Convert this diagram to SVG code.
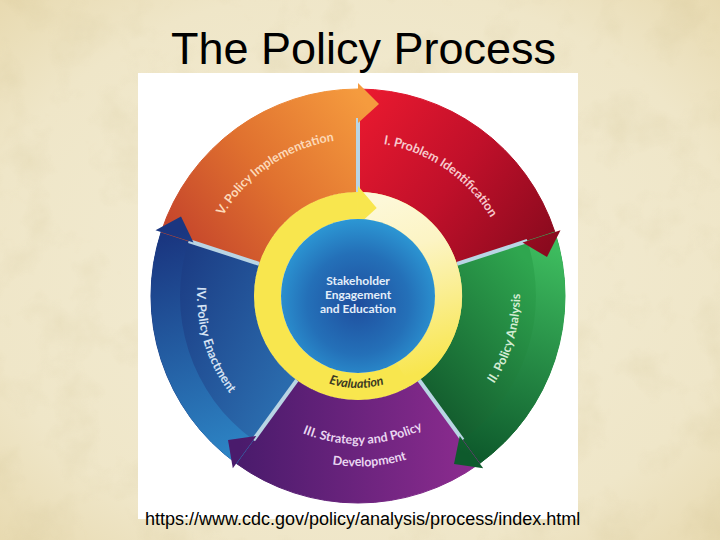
<svg xmlns="http://www.w3.org/2000/svg" width="720" height="540" viewBox="0 0 720 540">
<defs>
<style>
.title{font-family:"Liberation Sans",Arial,sans-serif;font-size:45px;fill:#000;}
.url{font-family:"Liberation Sans",Arial,sans-serif;font-size:18px;fill:#000;}
.lbl{font-family:Lato,"Open Sans",sans-serif;font-weight:700;font-size:12.5px;}
.core{font-family:Lato,"Open Sans",sans-serif;font-weight:700;font-size:12px;}
.sep{stroke:#b9d5e4;stroke-width:4;}
</style>
<radialGradient id="bg" cx="0.5" cy="0.5" r="0.75">
<stop offset="0" stop-color="#f3edd6"/>
<stop offset="0.7" stop-color="#efe6c8"/>
<stop offset="1" stop-color="#e6d7ab"/>
</radialGradient>
<filter id="paper" x="0" y="0" width="100%" height="100%">
<feTurbulence type="fractalNoise" baseFrequency="0.02" numOctaves="4" seed="7"/>
<feColorMatrix type="matrix" values="0 0 0 0 0.6  0 0 0 0 0.5  0 0 0 0 0.25  0 0 0 1.2 -0.58"/>
</filter>
<linearGradient id="gOrange" gradientUnits="userSpaceOnUse" x1="165" y1="245" x2="360" y2="95">
<stop offset="0" stop-color="#c2402b"/><stop offset="0.5" stop-color="#e0712f"/><stop offset="1" stop-color="#f59b3e"/>
</linearGradient>
<linearGradient id="gRed" gradientUnits="userSpaceOnUse" x1="365" y1="100" x2="555" y2="240">
<stop offset="0" stop-color="#e8192f"/><stop offset="0.5" stop-color="#c0102a"/><stop offset="1" stop-color="#8a0a1e"/>
</linearGradient>
<linearGradient id="gGreen" gradientUnits="userSpaceOnUse" x1="425" y1="390" x2="545" y2="280">
<stop offset="0" stop-color="#145f2f"/><stop offset="1" stop-color="#2fa64f"/>
</linearGradient>
<linearGradient id="gGreenS" gradientUnits="userSpaceOnUse" x1="470" y1="455" x2="555" y2="250">
<stop offset="0" stop-color="#0e5a2c"/><stop offset="1" stop-color="#3dbb5e"/>
</linearGradient>
<linearGradient id="gPurple" gradientUnits="userSpaceOnUse" x1="240" y1="440" x2="480" y2="440">
<stop offset="0" stop-color="#4a1b6c"/><stop offset="1" stop-color="#8e2c90"/>
</linearGradient>
<linearGradient id="gBlue" gradientUnits="userSpaceOnUse" x1="160" y1="280" x2="300" y2="360">
<stop offset="0" stop-color="#1b3a82"/><stop offset="1" stop-color="#2a6bad"/>
</linearGradient>
<linearGradient id="gBlueS" gradientUnits="userSpaceOnUse" x1="170" y1="235" x2="250" y2="450">
<stop offset="0" stop-color="#1a3680"/><stop offset="1" stop-color="#2d85c5"/>
</linearGradient>
<linearGradient id="gCream" gradientUnits="userSpaceOnUse" x1="380" y1="200" x2="430" y2="370">
<stop offset="0" stop-color="#fdf8d8"/><stop offset="0.3" stop-color="#fcf4c4"/><stop offset="1" stop-color="#f8e64e"/>
</linearGradient>
<radialGradient id="gCore" cx="0.5" cy="0.55" r="0.55">
<stop offset="0" stop-color="#1f4e9e"/><stop offset="0.6" stop-color="#2470b8"/><stop offset="1" stop-color="#2c97d4"/>
</radialGradient>
<path id="tpV" d="M 207.08 252.72 A 157 157 0 0 1 374.41 139.86"/>
<path id="tpI" d="M 343.24 142.71 A 154 154 0 0 1 506.40 254.85"/>
<path id="tpII" d="M 448.59 430.30 A 162 162 0 0 0 506.0 230.11"/>
<path id="tpIII1" d="M 266.88 412.63 A 148 148 0 0 0 457.03 405.99"/>
<path id="tpIII2" d="M 257.78 433.94 A 170.5 170.5 0 0 0 476.44 418.65"/>
<path id="tpIV" d="M 209.80 233.09 A 161 161 0 0 0 270.31 431.03"/>
<path id="tpEval" d="M 305.23 371.36 A 92 92 0 0 0 408.11 373.16"/>
</defs>

<rect width="720" height="540" fill="url(#bg)"/>
<rect width="720" height="540" filter="url(#paper)" opacity="0.35"/>

<text class="title" x="363.5" y="64" text-anchor="middle">The Policy Process</text>

<rect x="138" y="73" width="440" height="446" fill="#ffffff"/>

<g id="seg-1-problem-identification">
<path d="M 358 89 A 207 207 0 0 1 554.87 232.03 L 456.91 263.86 A 104 104 0 0 0 358 192 Z" fill="url(#gRed)" stroke="url(#gRed)" stroke-width="1"/>
<text class="lbl" fill="#f7c9cd"><textPath href="#tpI" startOffset="50%" text-anchor="middle">I. Problem Identification</textPath></text>
</g>
<g id="seg-2-policy-analysis">
<path d="M 554.87 232.03 A 207 207 0 0 1 479.67 463.47 L 419.13 380.14 A 104 104 0 0 0 456.91 263.86 Z" fill="url(#gGreen)" stroke="url(#gGreen)" stroke-width="1"/>
<path d="M 554.87 232.03 A 207 207 0 0 1 479.67 463.47 L 462.63 440.01 A 178 178 0 0 0 527.29 240.99 Z" fill="url(#gGreenS)"/>
<text class="lbl" fill="#d3ecd3"><textPath href="#tpII" startOffset="50%" text-anchor="middle">II. Policy Analysis</textPath></text>
</g>
<g id="seg-3-strategy">
<path d="M 479.67 463.47 A 207 207 0 0 1 236.33 463.47 L 296.87 380.14 A 104 104 0 0 0 419.13 380.14 Z" fill="url(#gPurple)" stroke="url(#gPurple)" stroke-width="1"/>
<text class="lbl" fill="#e9d6f0"><textPath href="#tpIII1" startOffset="50%" text-anchor="middle">III. Strategy and Policy</textPath></text>
<text class="lbl" fill="#e9d6f0"><textPath href="#tpIII2" startOffset="50%" text-anchor="middle">Development</textPath></text>
</g>
<g id="seg-4-policy-enactment">
<path d="M 236.33 463.47 A 207 207 0 0 1 161.13 232.03 L 259.09 263.86 A 104 104 0 0 0 296.87 380.14 Z" fill="url(#gBlue)" stroke="url(#gBlue)" stroke-width="1"/>
<path d="M 236.33 463.47 A 207 207 0 0 1 161.13 232.03 L 188.71 240.99 A 178 178 0 0 0 253.37 440.01 Z" fill="url(#gBlueS)"/>
<text class="lbl" fill="#d5e3f4"><textPath href="#tpIV" startOffset="50%" text-anchor="middle">IV. Policy Enactment</textPath></text>
</g>
<g id="seg-5-policy-implementation">
<path d="M 161.13 232.03 A 207 207 0 0 1 358 89 L 358 192 A 104 104 0 0 0 259.09 263.86 Z" fill="url(#gOrange)" stroke="url(#gOrange)" stroke-width="1"/>
<text class="lbl" fill="#fcd9b8"><textPath href="#tpV" startOffset="50%" text-anchor="middle">V. Policy Implementation</textPath></text>
</g>

<g id="connectors">
<line class="sep" x1="358" y1="192" x2="358" y2="118"/>
<line class="sep" x1="456.91" y1="263.86" x2="527.29" y2="240.99"/>
<line class="sep" x1="419.13" y1="380.14" x2="462.63" y2="440.01"/>
<line class="sep" x1="296.87" y1="380.14" x2="253.37" y2="440.01"/>
<line class="sep" x1="259.09" y1="263.86" x2="188.71" y2="240.99"/>
<polygon points="358,83 379,104 358,123" fill="url(#gOrange)"/>
<polygon points="560.5,230.2 547,257 522.5,242.5" fill="url(#gRed)"/>
<polygon points="483.2,468.3 454,464 459.7,436" fill="url(#gGreenS)"/>
<polygon points="232.8,468.3 228,440 256.3,436" fill="url(#gPurple)"/>
<polygon points="155.5,230.2 181,216.5 193.5,242.5" fill="url(#gBlueS)"/>
</g>

<g id="evaluation-ring">
<circle cx="358" cy="296" r="90.5" fill="none" stroke="#f8e64e" stroke-width="27"/>
<path d="M 358 205.5 A 90.5 90.5 0 0 1 403.25 374.38" fill="none" stroke="url(#gCream)" stroke-width="27"/>
<polygon points="358,186 376.71,207.97 358,225" fill="#f8e64e"/>
<text class="lbl" fill="#3b3a22" font-style="italic" font-size="12px"><textPath href="#tpEval" startOffset="50%" text-anchor="middle">Evaluation</textPath></text>
</g>

<g id="stakeholder-core">
<circle cx="358" cy="296" r="77" fill="url(#gCore)"/>
<text class="core" fill="#e3eefa" text-anchor="middle"><tspan x="358" y="285">Stakeholder</tspan><tspan x="358" y="299">Engagement</tspan><tspan x="358" y="313">and Education</tspan></text>
</g>

<text class="url" x="145" y="525">https://www.cdc.gov/policy/analysis/process/index.html</text>
</svg>
